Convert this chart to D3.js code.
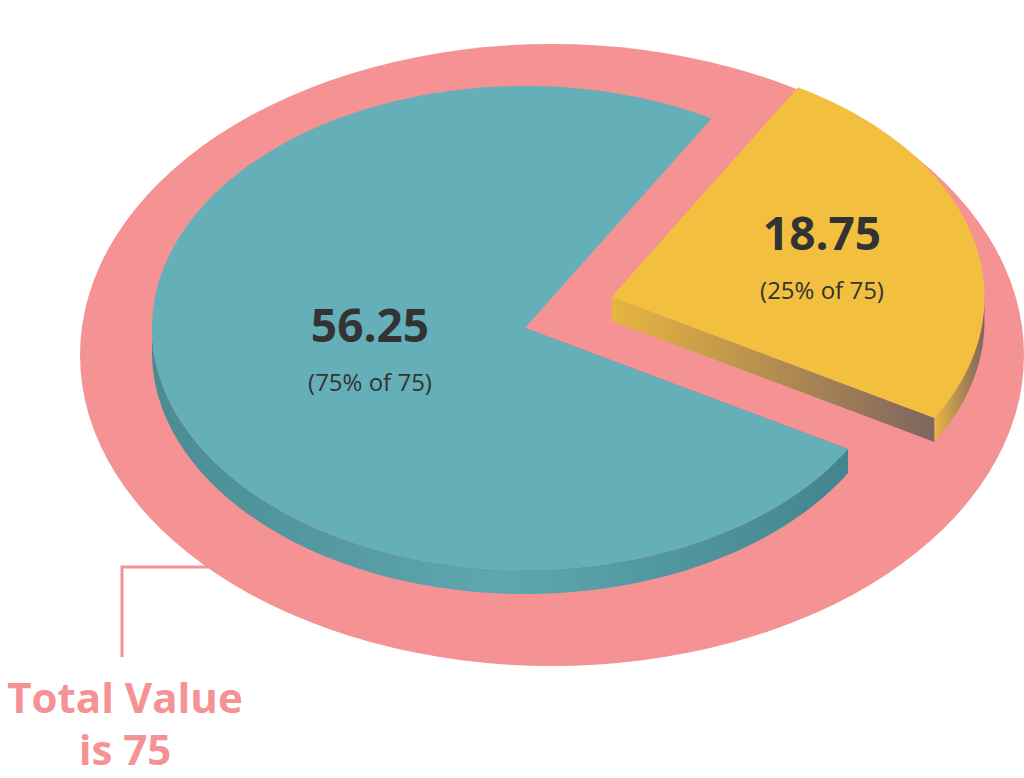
<!DOCTYPE html>
<html><head><meta charset="utf-8">
<script src="https://cdn.jsdelivr.net/npm/d3@7"></script>
<style>body{margin:0;background:#fff}svg{display:block}</style>
</head><body>
<svg id="chart" width="1024" height="778"></svg>
<script>
// chart data
var categories = ['Part B', 'Part A'];
var values = [18.75, 56.25];
var percents = ['25%', '75%'];
var total = 75;
var colors = ['#f2bf3f', '#65afb8'];
var sideColors = ['#9a7452', '#4b9098'];

var svg = d3.select('#chart');
var cx = 525, cy = 328, rx = 373, ry = 242, depth = 24;

svg.append('ellipse').attr('cx', 552).attr('cy', 355).attr('rx', 472).attr('ry', 311).attr('fill', '#f59293');

var pie = d3.pie().sort(null).startAngle(Math.PI / 6).endAngle(2 * Math.PI + Math.PI / 6);
var arcs = pie(values);

var defs = svg.append('defs');
var g1 = defs.append('linearGradient').attr('id', 'ysides').attr('x1', 0).attr('x2', 1).attr('y1', 0).attr('y2', 0);
g1.append('stop').attr('offset', 0).attr('stop-color', '#e8b540');
g1.append('stop').attr('offset', 1).attr('stop-color', '#7e6560');
var g2 = defs.append('linearGradient').attr('id', 'tsides').attr('x1', 0).attr('x2', 1).attr('y1', 0).attr('y2', 0);
g2.append('stop').attr('offset', 0).attr('stop-color', '#4a8c93');
g2.append('stop').attr('offset', 0.5).attr('stop-color', '#5fa7b0');
g2.append('stop').attr('offset', 1).attr('stop-color', '#43858c');

function pt(ox, oy, a, dy) { return [ox + rx * Math.cos(a), oy + ry * Math.sin(a) + (dy || 0)]; }
function arcPts(ox, oy, a0, a1, dy) {
  var n = Math.max(2, Math.ceil(Math.abs(a1 - a0) / 0.02));
  return d3.range(n + 1).map(function (i) { return pt(ox, oy, a0 + (a1 - a0) * i / n, dy); });
}
var line = d3.line();
var labelLayer = [];

arcs.forEach(function (d, i) {
  var a0 = d.startAngle - Math.PI / 2, a1 = d.endAngle - Math.PI / 2;
  var mid = (a0 + a1) / 2;
  var ex = i === 0 ? 0.24 : 0, ox = cx + ex * rx * Math.cos(mid), oy = cy + ex * ry * Math.sin(mid) - (i === 0 ? 16 : 0);
  var g = svg.append('g');
  var sideFill = i === 0 ? 'url(#ysides)' : 'url(#tsides)';
  // visible radial face
  var fa = i === 0 ? a1 : a0;
  var p = pt(ox, oy, fa);
  var face = [[ox, oy], p, [p[0], p[1] + depth], [ox, oy + depth]];
  g.append('path').attr('d', line(face) + 'Z').attr('fill', i === 0 ? 'url(#ysides)' : sideColors[1]);
  // outer rim: visible where sin > 0 (handle wrap)
  [[a0, a1], [a0 - 2 * Math.PI, a1 - 2 * Math.PI]].forEach(function (r) {
    var s = Math.max(r[0], 0), e = Math.min(r[1], Math.PI);
    if (e > s) {
      var top = arcPts(ox, oy, s, e), bot = arcPts(ox, oy, e, s, depth);
      g.append('path').attr('d', line(top.concat(bot)) + 'Z').attr('fill', sideFill);
    }
  });
  g.append('path').attr('d', line([[ox, oy]].concat(arcPts(ox, oy, a0, a1))) + 'Z').attr('fill', colors[i]);
  labelLayer.push({ x: i === 0 ? 822 : 370, y: i === 0 ? 250 : 342, i: i });
});

labelLayer.forEach(function (l) {
  svg.append('text').attr('x', l.x).attr('y', l.y).attr('text-anchor', 'middle')
    .attr('font-family', 'Open Sans, sans-serif').attr('font-weight', 'bold').attr('font-size', 46).attr('fill', '#333')
    .text(values[l.i].toFixed(2));
  svg.append('text').attr('x', l.x).attr('y', l.y + 49).attr('text-anchor', 'middle')
    .attr('font-family', 'Open Sans, sans-serif').attr('font-size', 24).attr('fill', '#333')
    .text('(' + percents[l.i] + ' of ' + total + ')');
});

svg.append('path').attr('d', 'M213,567H122V657').attr('fill', 'none').attr('stroke', '#f59293').attr('stroke-width', 3);
var tt = svg.append('text').attr('text-anchor', 'middle').attr('font-family', 'Open Sans, sans-serif')
  .attr('font-weight', 'bold').attr('font-size', 42).attr('fill', '#f59293');
tt.append('tspan').attr('x', 125).attr('y', 713).text('Total Value');
tt.append('tspan').attr('x', 125).attr('y', 765).text('is ' + total);
</script>
</body></html>
